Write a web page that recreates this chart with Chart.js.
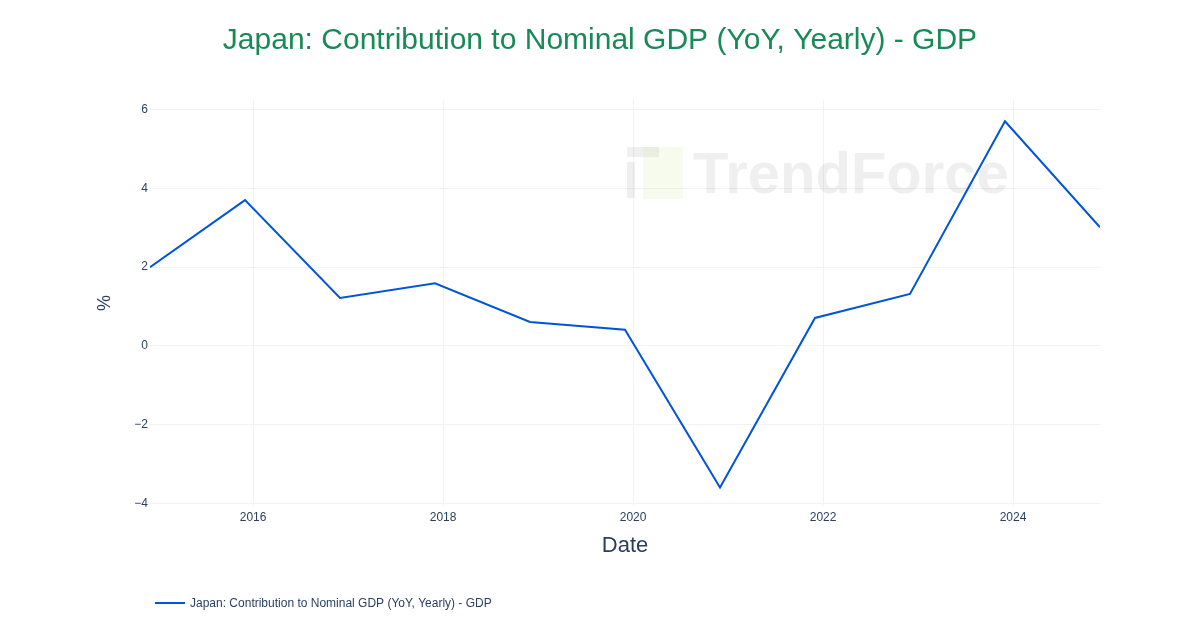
<!DOCTYPE html>
<html>
<head>
<meta charset="utf-8">
<script src="https://cdn.jsdelivr.net/npm/chart.js@4/dist/chart.umd.min.js"></script>
<style>
  html, body { margin: 0; padding: 0; background: #fff; }
  #wrap { width: 1200px; height: 630px; }
</style>
</head>
<body>
<div id="wrap"><canvas id="myChart" width="1200" height="630"></canvas></div>
<script>
// Data
const dates = ['2014-12-01', '2015-12-01', '2016-12-01', '2017-12-01', '2018-12-01', '2019-12-01',
               '2020-12-01', '2021-12-01', '2022-12-01', '2023-12-01', '2024-12-01'];
const gdpValues = [2.0, 3.7, 1.22, 1.59, 0.61, 0.41, -3.59, 0.71, 1.32, 5.7, 3.01];
const xTickYears = [2016, 2018, 2020, 2022, 2024];
const yTickValues = [-4, -2, 0, 2, 4, 6];

const seriesName = 'Japan: Contribution to Nominal GDP (YoY, Yearly) - GDP';
const titleText = 'Japan: Contribution to Nominal GDP (YoY, Yearly) - GDP';
const textColor = '#2a3f5f';
const lineColor = '#0055d6';
const fontFamily = '"Liberation Sans", Arial, sans-serif';

// date string -> fractional year
function toYear(str) {
    const d = new Date(str + 'T00:00:00Z');
    const start = Date.UTC(d.getUTCFullYear(), 0, 1);
    const end = Date.UTC(d.getUTCFullYear() + 1, 0, 1);
    return d.getUTCFullYear() + (d - start) / (end - start);
}

const points = dates.map((d, i) => ({ x: toYear(d), y: gdpValues[i] }));

// Title, axis titles, legend and watermark
const decorPlugin = {
    id: 'decor',
    beforeDatasetsDraw(chart) {
        const ctx = chart.ctx;
        ctx.save();
        // watermark
        ctx.fillStyle = 'rgba(110,110,110,0.11)';
        ctx.font = 'bold 58px ' + fontFamily;
        ctx.textBaseline = 'alphabetic';
        ctx.textAlign = 'left';
        ctx.fillText('TrendForce', 693, 193);
        ctx.fillRect(627, 147, 32, 10);
        ctx.fillRect(627, 162, 8, 36);
        ctx.fillStyle = 'rgba(200,225,140,0.15)';
        ctx.fillRect(643, 147, 40, 52);
        ctx.restore();
    },
    afterDraw(chart) {
        const ctx = chart.ctx;
        const area = chart.chartArea;
        ctx.save();
        // title
        ctx.fillStyle = '#178a56';
        ctx.font = '30px ' + fontFamily;
        ctx.textAlign = 'center';
        ctx.textBaseline = 'middle';
        ctx.fillText(titleText, 600, 41);
        // x axis title
        ctx.fillStyle = textColor;
        ctx.font = '22px ' + fontFamily;
        ctx.fillText('Date', (area.left + area.right) / 2, 546);
        // y axis title
        ctx.save();
        ctx.translate(105, (area.top + area.bottom) / 2);
        ctx.rotate(-Math.PI / 2);
        ctx.font = '18px ' + fontFamily;
        ctx.fillText('%', 0, 0);
        ctx.restore();
        // legend
        ctx.strokeStyle = lineColor;
        ctx.lineWidth = 2;
        ctx.beginPath();
        ctx.moveTo(155, 603);
        ctx.lineTo(185, 603);
        ctx.stroke();
        ctx.fillStyle = textColor;
        ctx.font = '12px ' + fontFamily;
        ctx.textAlign = 'left';
        ctx.fillText(seriesName, 190, 604);
        ctx.restore();
    }
};

const ctx = document.getElementById('myChart').getContext('2d');
new Chart(ctx, {
    type: 'line',
    data: {
        datasets: [{
            label: seriesName,
            data: points,
            borderColor: lineColor,
            backgroundColor: lineColor,
            borderWidth: 2,
            pointRadius: 0,
            tension: 0
        }]
    },
    options: {
        responsive: false,
        animation: false,
        layout: { padding: { top: 100, right: 100, left: 0, bottom: 0 } },
        plugins: {
            legend: { display: false },
            title: { display: false },
            tooltip: { enabled: false }
        },
        scales: {
            x: {
                type: 'linear',
                min: toYear(dates[0]),
                max: toYear(dates[dates.length - 1]),
                afterBuildTicks: scale => { scale.ticks = xTickYears.map(v => ({ value: v })); },
                afterFit: scale => { scale.height = 124; },
                grid: { color: '#f2f2f2', drawTicks: false, lineWidth: 1 },
                border: { display: false },
                ticks: {
                    color: textColor,
                    font: { family: fontFamily, size: 12 },
                    padding: 4,
                    maxRotation: 0,
                    callback: v => String(v)
                }
            },
            y: {
                min: -4.06,
                max: 6.24,
                afterBuildTicks: scale => { scale.ticks = yTickValues.map(v => ({ value: v })); },
                afterFit: scale => { scale.width = 150; },
                grid: { color: '#f2f2f2', drawTicks: false, lineWidth: 1 },
                border: { display: false },
                ticks: {
                    color: textColor,
                    font: { family: fontFamily, size: 12 },
                    padding: 2,
                    callback: v => (v < 0 ? '\u2212' + Math.abs(v) : String(v))
                }
            }
        }
    },
    plugins: [decorPlugin]
});
</script>
</body>
</html>
